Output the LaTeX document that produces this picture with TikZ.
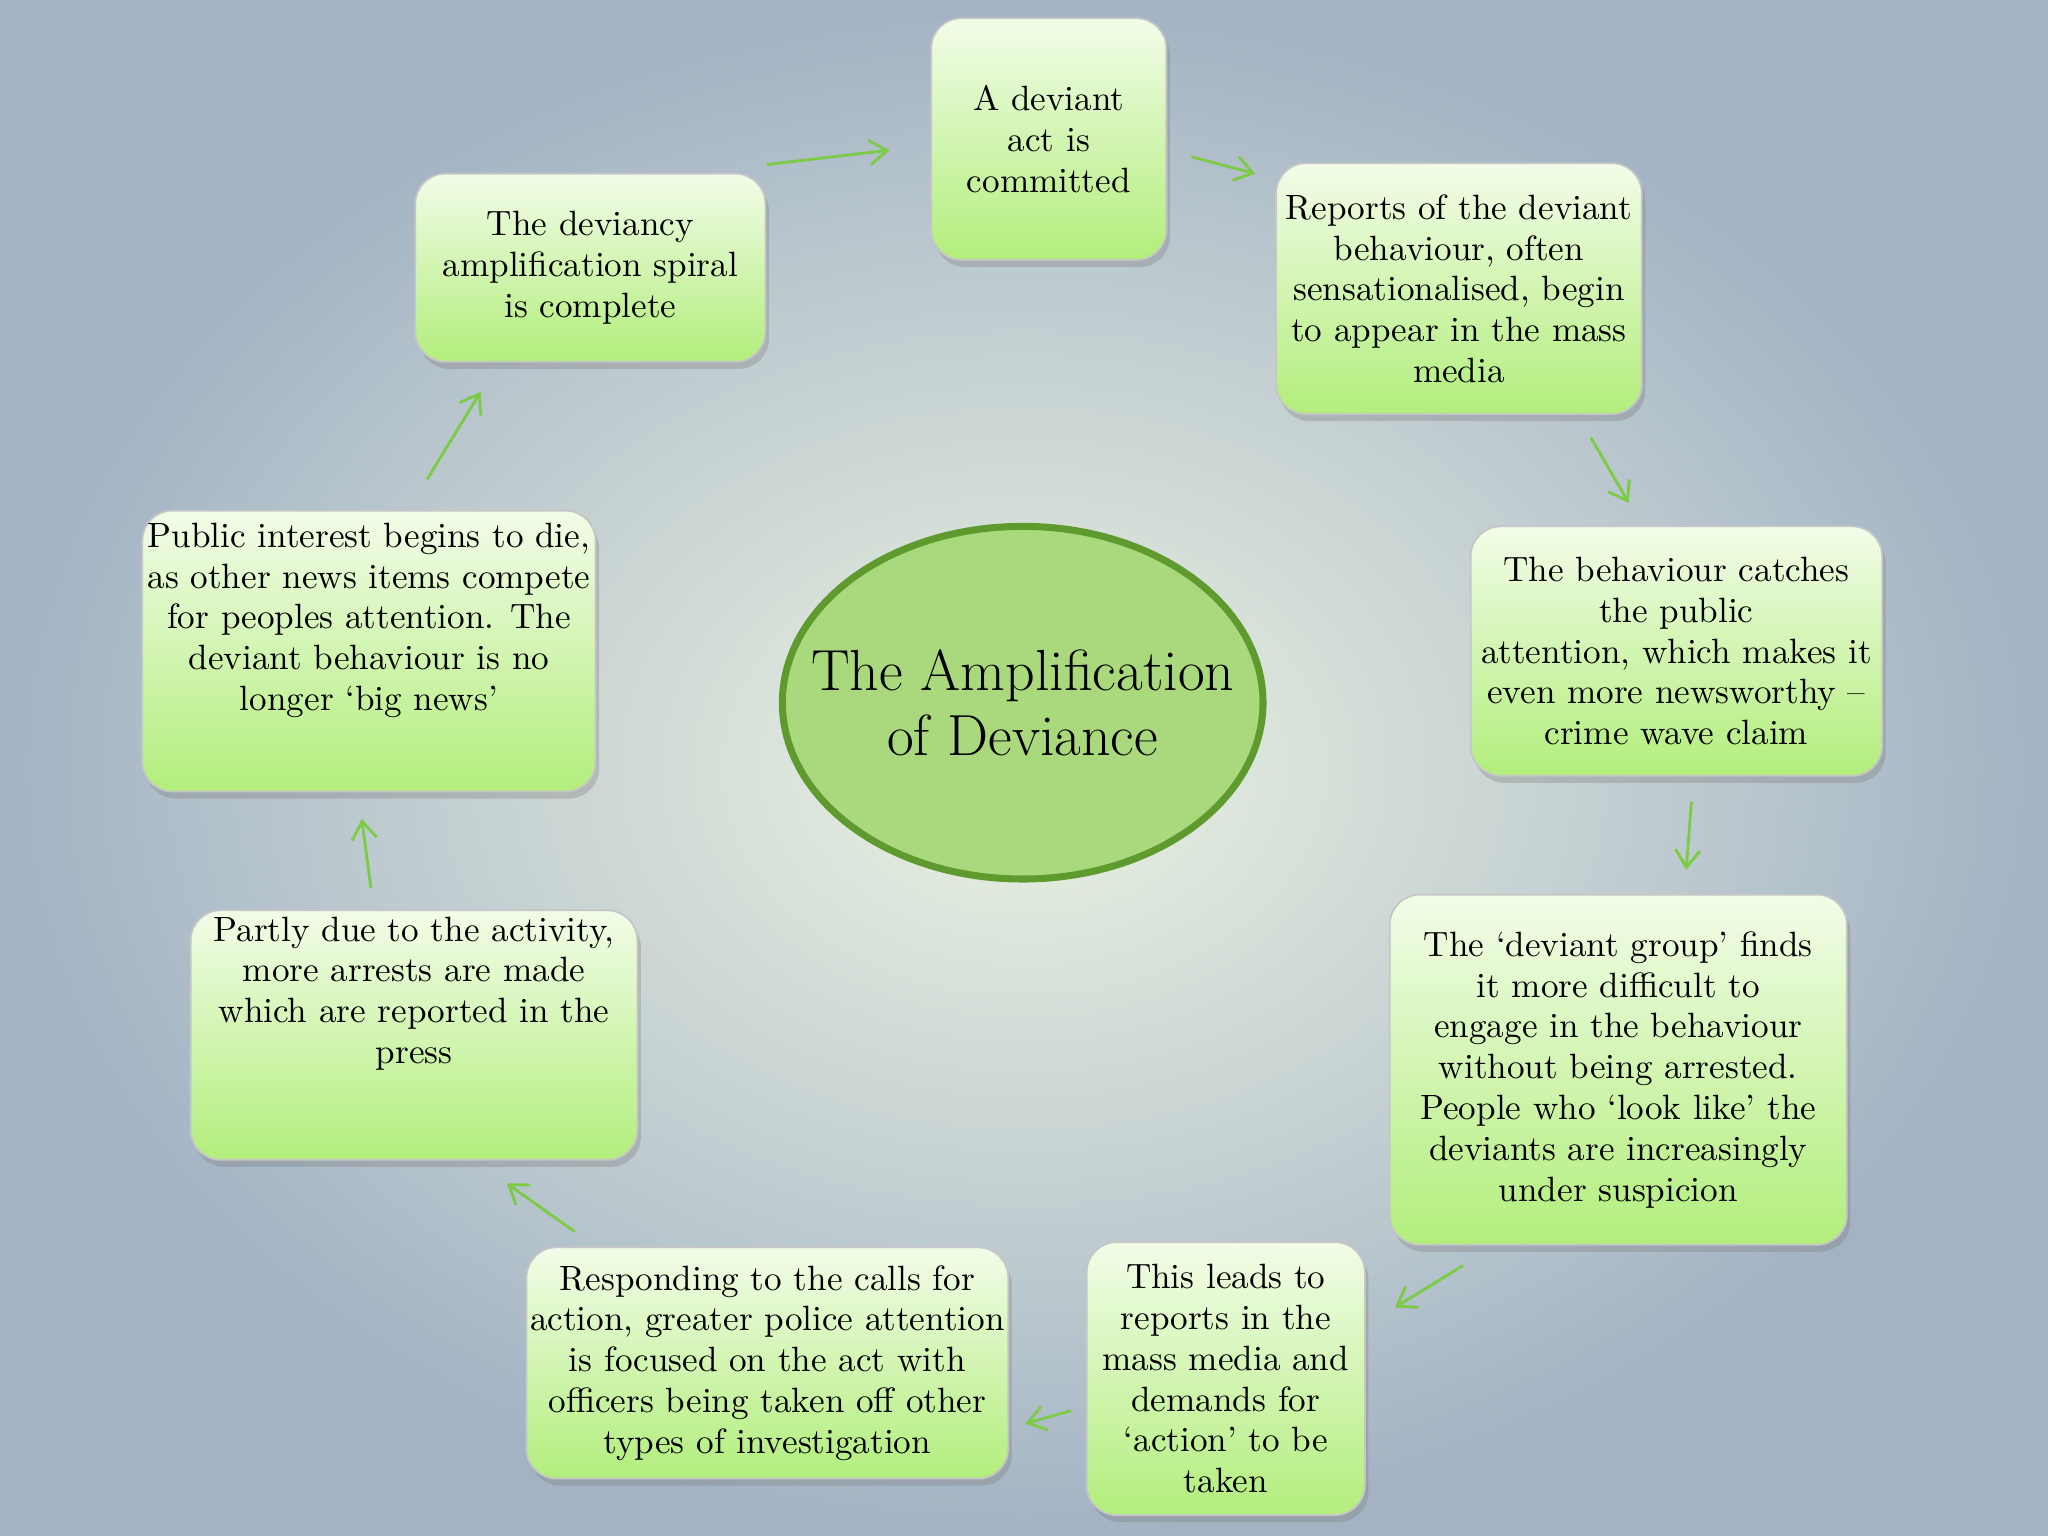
\documentclass[tikz,border=0pt]{standalone}
\usetikzlibrary{shadows,arrows.meta,shapes.geometric}
\definecolor{bgc}{HTML}{ECF3E2}
\definecolor{bge}{HTML}{A3B3C4}
\definecolor{boxtop}{HTML}{F2FCE8}
\definecolor{boxbot}{HTML}{B2EE7C}
\definecolor{arr}{HTML}{7CCB45}
\definecolor{ellf}{HTML}{A9D97C}
\definecolor{elld}{HTML}{5E9A2E}
\begin{document}
\begin{tikzpicture}[x=0.01306cm,y=-0.01306cm,
  bx/.style 2 args={draw=gray!45,line width=0.5pt,rounded corners=0.3cm,top color=boxtop,bottom color=boxbot,
    minimum width=#1*0.01306cm,minimum height=#2*0.01306cm,align=center,
    inner sep=1pt,font=\fontsize{10}{11.6}\selectfont,drop shadow={opacity=0.35,shadow xshift=1pt,shadow yshift=-2pt}},
  ar/.style={draw=arr,line width=0.8pt,-{Straight Barb[length=5pt,width=7pt]}}]
\shade[inner color=bgc,outer color=bge] (0,0) rectangle (1568,1176);
\useasboundingbox (0,0) rectangle (1568,1176);
\node[bx={180}{185}] (b1) at (803,106.5) {A deviant\\act is\\committed};
\node[bx={280}{192}] (b2) at (1117,221) {Reports of the deviant\\behaviour, often\\sensationalised, begin\\to appear in the mass\\media};
\node[bx={315}{191}] (b3) at (1283.5,498.5) {The behaviour catches\\the public\\attention, which makes it\\even more newsworthy --\\crime wave claim};
\node[bx={350}{268}] (b4) at (1239,819) {The `deviant group' finds\\it more difficult to\\engage in the behaviour\\without being arrested.\\People who `look like' the\\deviants are increasingly\\under suspicion};
\node[bx={213}{209}] (b5) at (938.5,1055.5) {This leads to\\reports in the\\mass media and\\demands for\\`action' to be\\taken};
\node[bx={365}{177}] (b6) at (587.5,1043.5) {Responding to the calls for\\action, greater police attention\\is focused on the act with\\officers being taken off other\\types of investigation};
\node[bx={342}{191}] (b7) at (317,792.5) {Partly due to the activity,\\more arrests are made\\which are reported in the\\press\\[1.4em]};
\node[bx={347}{215}] (b8) at (282.5,498.5) {Public interest begins to die,\\as other news items compete\\for peoples attention. The\\deviant behaviour is no\\longer `big news'\\[0.8em]};
\node[bx={268}{144}] (b9) at (452,205) {The deviancy\\amplification spiral\\is complete};
\node[ellipse,draw=elld,line width=2pt,fill=ellf,minimum width=368*0.01306cm,minimum height=270*0.01306cm,
  inner sep=0pt] (c) at (783,538) {};
\node[align=center,font=\fontsize{16.5}{18.5}\selectfont] (ct) at (c.center) {The Amplification\\of Deviance};
\coordinate (a1s) at (587,126); \coordinate (a1e) at (681,115);
\coordinate (a2s) at (912,120); \coordinate (a2e) at (961,133);
\coordinate (a3s) at (1218,335); \coordinate (a3e) at (1247,385);
\coordinate (a4s) at (1295,614); \coordinate (a4e) at (1291,666);
\coordinate (a5s) at (1120,969); \coordinate (a5e) at (1068,1001);
\coordinate (a6s) at (820,1080); \coordinate (a6e) at (785,1090);
\coordinate (a7s) at (440,943); \coordinate (a7e) at (388,906);
\coordinate (a8s) at (284,680); \coordinate (a8e) at (277,627);
\coordinate (a9s) at (327,367); \coordinate (a9e) at (368,300);
\foreach \i in {1,...,9} \draw[ar] (a\i s) -- (a\i e);
\end{tikzpicture}
\end{document}
